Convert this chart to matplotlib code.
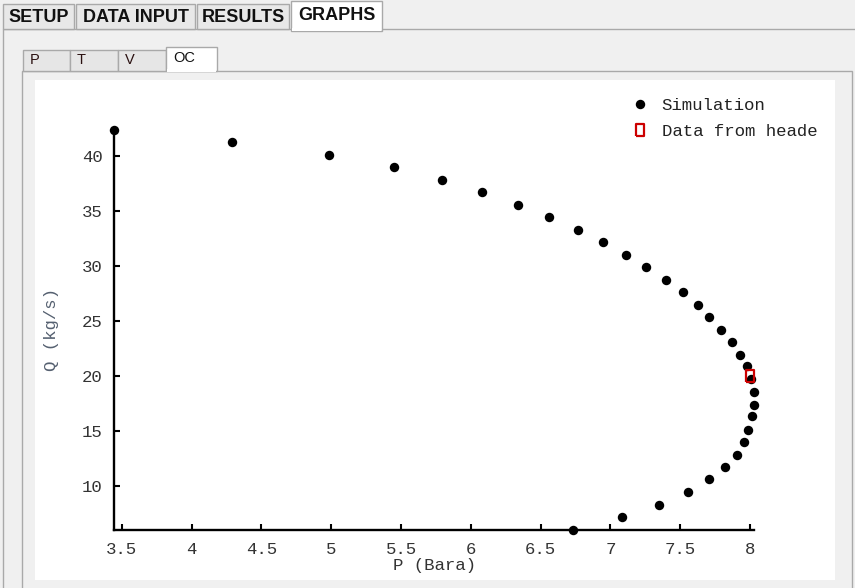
import matplotlib
matplotlib.use("Agg")
import matplotlib.pyplot as plt
from matplotlib.patches import Rectangle

# simulated operating curve
p_sim = [3.444, 4.291, 4.983, 5.448, 5.793, 6.080, 6.337, 6.559, 6.767, 6.945,
         7.110, 7.253, 7.396, 7.518, 7.625, 7.704, 7.790, 7.869, 7.926, 7.976,
         8.009, 8.027, 8.029, 8.012, 7.983, 7.954, 7.904, 7.818, 7.704, 7.554,
         7.346, 7.081, 6.731]
q_sim = [42.30, 41.21, 40.06, 38.95, 37.77, 36.69, 35.54, 34.42, 33.24, 32.16,
         30.98, 29.89, 28.72, 27.63, 26.45, 25.37, 24.19, 23.10, 21.93, 20.87,
         19.78, 18.60, 17.40, 16.34, 15.13, 14.05, 12.87, 11.78, 10.63, 9.52,
         8.34, 7.25, 6.08]

# point from well header
p_head = [8.00]
q_head = [20.02]

x_ticks = [3.5, 4, 4.5, 5, 5.5, 6, 6.5, 7, 7.5, 8]
y_ticks = [10, 15, 20, 25, 30, 35, 40]

outer_tabs = ["SETUP", "DATA INPUT", "RESULTS", "GRAPHS"]
inner_tabs = ["P", "T", "V", "OC"]

W, H = 855, 588
MONO = ["Liberation Mono", "DejaVu Sans Mono"]
SANS = ["Liberation Sans", "DejaVu Sans"]


def fx(px):
    return px / W


def fy(py):
    return 1 - py / H


fig = plt.figure(figsize=(W / 100, H / 100), dpi=100)
fig.patch.set_facecolor("#f0f0f0")

# window chrome drawn in pixel coordinates
ui = fig.add_axes([0, 0, 1, 1])
ui.set_xlim(0, W)
ui.set_ylim(H, 0)
ui.axis("off")

border = "#a9a9a9"
# outer tab page
ui.add_patch(Rectangle((3, 29), W, H, facecolor="#f0f0f0", edgecolor=border, lw=1))
outer_x = [(3, 74), (76, 195), (197, 289), (291, 382)]
for name, (x0, x1) in zip(outer_tabs, outer_x):
    if name == "GRAPHS":
        ui.add_patch(Rectangle((x0, 1), x1 - x0, 29.5, facecolor="white",
                               edgecolor=border, lw=1, zorder=3))
        ui.add_patch(Rectangle((x0 + 0.8, 28), x1 - x0 - 1.6, 3, facecolor="white",
                               edgecolor="none", zorder=4))
        ui.text((x0 + x1) / 2, 15, name, ha="center", va="center", fontsize=13,
                fontweight="bold", family=SANS, color="#111111", zorder=5)
    else:
        ui.add_patch(Rectangle((x0, 4), x1 - x0, 25, facecolor="#e8e8e8",
                               edgecolor=border, lw=1, zorder=2))
        ui.text((x0 + x1) / 2, 17, name, ha="center", va="center", fontsize=13,
                fontweight="bold", family=SANS, color="#111111", zorder=5)

# inner tab page
ui.add_patch(Rectangle((22, 70.5), 830, 540, facecolor="#f0f0f0", edgecolor=border, lw=1))
inner_x = [(23, 70), (70, 118), (118, 166), (166, 217)]
for name, (x0, x1) in zip(inner_tabs, inner_x):
    if name == "OC":
        ui.add_patch(Rectangle((x0, 47), x1 - x0, 24, facecolor="white",
                               edgecolor=border, lw=1, zorder=3))
        ui.add_patch(Rectangle((x0 + 0.8, 69), x1 - x0 - 1.6, 3, facecolor="white",
                               edgecolor="none", zorder=4))
        ui.text(x0 + 7, 57.5, name, ha="left", va="center", fontsize=10.5,
                family=SANS, color="#111111", zorder=5)
    else:
        ui.add_patch(Rectangle((x0, 50), x1 - x0, 20.5, facecolor="#e6e6e6",
                               edgecolor=border, lw=1, zorder=2))
        ui.text(x0 + 7, 60, name, ha="left", va="center", fontsize=10.5,
                family=SANS, color="#2a1010", zorder=5)

# white graph area
ui.add_patch(Rectangle((35, 80), 800, 500, facecolor="white", edgecolor="none"))

# the plot itself
ax = fig.add_axes([fx(114), fy(529.5), fx(754) - fx(114), fy(130.3) - fy(529.5)])
ax.set_facecolor("none")
ax.plot(p_sim, q_sim, "o", color="black", ms=6.8, mec="none", clip_on=False,
        zorder=3, label="Simulation")
ax.plot(p_head, q_head, marker=[(-2, -3), (2, -3), (2, 3), (-2, 3), (-2, -3)],
        ls="none", ms=9, mfc="none", mec="#cc0000", mew=1.6, clip_on=False,
        zorder=4, label="Data from heade")
ax.set_xlim(min(p_sim), max(p_sim))
ax.set_ylim(min(q_sim), max(q_sim))
ax.set_xticks(x_ticks)
ax.set_xticklabels(["%g" % v for v in x_ticks])
ax.set_yticks(y_ticks)
ax.set_yticklabels(["%g" % v for v in y_ticks])
for s in ["top", "right"]:
    ax.spines[s].set_visible(False)
for s in ["left", "bottom"]:
    ax.spines[s].set_linewidth(1.7)
ax.tick_params(direction="in", length=4.5, width=1.5, labelsize=12.5,
               labelcolor="#333333")
ax.tick_params(axis="x", pad=9)
ax.tick_params(axis="y", pad=8)
for lab in ax.get_xticklabels() + ax.get_yticklabels():
    lab.set_family(MONO)

ax.set_xlabel("P (Bara)", family=MONO, fontsize=12.5, color="#333333", labelpad=0.5)
ax.set_ylabel("Q (kg/s)", family=MONO, fontsize=12.5, color="#556070", labelpad=17)

leg = ax.legend(loc="upper left", bbox_to_anchor=(fx(633), fy(98)),
                bbox_transform=fig.transFigure, frameon=False, borderaxespad=0,
                borderpad=0, handlelength=0.8, handletextpad=0.85,
                labelspacing=0.62, prop={"family": MONO, "size": 12.5})
for t in leg.get_texts():
    t.set_color("#222222")

fig.savefig("out.png", dpi=100, facecolor=fig.get_facecolor())
